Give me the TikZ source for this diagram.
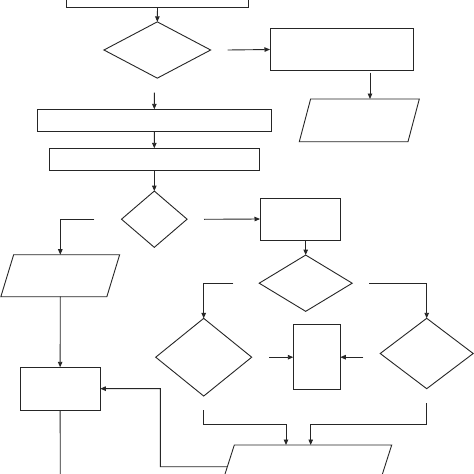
\documentclass[tikz,border=0pt]{standalone}
\usetikzlibrary{shapes.geometric,arrows.meta,calc}
\begin{document}
\begin{tikzpicture}[x=1pt,y=-1pt,
  base/.style={draw=black!85,line width=0.9pt,inner sep=0pt,outer sep=0pt},
  box/.style={base,rectangle},
  dia/.style={base,diamond},
  para/.style={base,rectangle},
  con/.style={draw=black!85,line width=0.9pt},
  arr/.style={con,-{Triangle[length=5.5pt,width=4.5pt]}}]
\useasboundingbox (0,0) rectangle (474,474);
\fill[white] (0,0) rectangle (474,474);
\clip (0,0) rectangle (474,474);
% rectangles
\node[box,minimum width=181.6pt,minimum height=22pt] (r0) at (157.5,-3.7) {};
\node[box,minimum width=143.7pt,minimum height=42.4pt] (r2) at (341.85,49.5) {};
\node[box,minimum width=234.7pt,minimum height=22pt] (r3) at (154.35,120.3) {};
\node[box,minimum width=210pt,minimum height=21.7pt] (r4) at (154.3,159.15) {};
\node[box,minimum width=80.3pt,minimum height=42pt] (r5) at (300.15,219) {};
\node[box,minimum width=80.3pt,minimum height=42.7pt] (r6) at (60.15,388.65) {};
\node[box,minimum width=47pt,minimum height=64.3pt] (r7) at (316.8,356.85) {};
% diamonds
\node[dia,minimum width=106.7pt,minimum height=56.3pt] (d1) at (157.3,50) {};
\node[dia,minimum width=65.6pt,minimum height=56.3pt] (d2) at (154.3,219.2) {};
\node[dia,minimum width=93pt,minimum height=56.3pt] (d3) at (305.7,283.2) {};
\node[dia,minimum width=96pt,minimum height=77.7pt] (d4) at (203.7,357.2) {};
\node[dia,minimum width=93pt,minimum height=70.4pt] (d5) at (426.7,353.5) {};
% parallelograms
\node[para,minimum width=108.7pt,minimum height=42.7pt,xslant=0.265] (p1) at (359.3,120.35) {};
\node[para,minimum width=106pt,minimum height=42pt,xslant=0.305] (p2) at (60.25,275.7) {};
\node[para,minimum width=157.4pt,minimum height=50pt,xslant=0.32] (p3) at (305,470) {};
% free ends
\coordinate (a1) at (227.7,50);
\coordinate (a2) at (370,72.7);
\coordinate (a3) at (154.3,92.7);
\coordinate (a4) at (204,219.3);
\coordinate (a5) at (94.3,219.3);
\coordinate (a6) at (60.3,480);
\coordinate (a7) at (233.3,283.2);
\coordinate (a8) at (369,283.2);
\coordinate (a9) at (269,357.2);
\coordinate (a10) at (363.3,357.2);
\coordinate (b1) at (203.7,410);
\coordinate (b2) at (426.7,403.3);
\coordinate (m1) at (286,424.3);
\coordinate (m2) at (310.7,424.3);
\coordinate (jl) at ($(p3.north west)!0.434!(p3.south west)$);
\coordinate (jx) at (160.3,466.7);
% connectors
\draw[arr] (r0.south) -- (d1.north);
\draw[arr] (a1) -- (r2.west);
\draw[arr] (a2) -- (a2 |- p1.north);
\draw[arr] (a3) -- (r3.north);
\draw[arr] (r3.south) -- (r4.north);
\draw[arr] (r4.south) -- (d2.north);
\draw[arr] (a4) -- (r5.west);
\draw[arr] (a5) -| (60.3,254.7);
\draw[arr] (60.3,296.7) -- (r6.north);
\draw[con] (r6.south) -- (a6);
\draw[arr] (d3.north |- r5.south) -- (d3.north);
\draw[arr] (a7) -| (d4.north);
\draw[arr] (a8) -| (d5.north);
\draw[arr] (a9) -- (a9 -| r7.west);
\draw[arr] (a10) -- (a10 -| r7.east);
\draw[arr] (b1) |- (m1) -- (m1 |- p3.north);
\draw[arr] (b2) |- (m2) -- (m2 |- p3.north);
\draw[arr] (jl) -- (jx) |- (r6.east);
\end{tikzpicture}
\end{document}
